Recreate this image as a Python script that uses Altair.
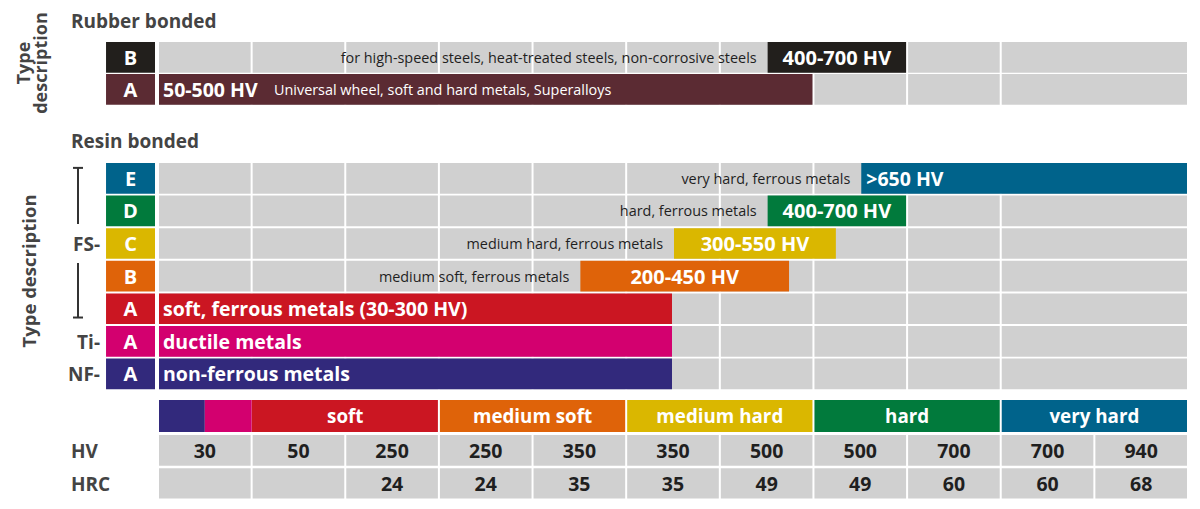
import altair as alt
import pandas as pd

# ---------------- data ----------------
upper_grid_edges = [0, 1, 2, 3, 4, 5, 6, 7, 8, 9, 11]

rubber_letters = ["B", "A"]
rubber_colors = ["#221f1c", "#5b2b33"]
rubber_start = [6.5, 0.0]
rubber_end = [8.0, 7.0]
rubber_labels = ["400-700 HV", "50-500 HV"]
rubber_desc = ["for high-speed steels, heat-treated steels, non-corrosive steels",
               "Universal wheel, soft and hard metals, Superalloys"]

resin_groups = ["FS", "FS", "FS", "FS", "FS", "Ti", "NF"]
resin_letters = ["E", "D", "C", "B", "A", "A", "A"]
resin_colors = ["#00638b", "#017a3c", "#dab700", "#df6309", "#cb1622", "#d3006f", "#32297c"]
resin_start = [7.5, 6.5, 5.5, 4.5, 0.0, 0.0, 0.0]
resin_end = [11.0, 8.0, 7.25, 6.75, 5.5, 5.5, 5.5]
resin_labels = [">650 HV", "400-700 HV", "300-550 HV", "200-450 HV",
                "soft, ferrous metals (30-300 HV)", "ductile metals", "non-ferrous metals"]
resin_desc = ["very hard, ferrous metals", "hard, ferrous metals",
              "medium hard, ferrous metals", "medium soft, ferrous metals", "", "", ""]

class_names = ["soft", "medium soft", "medium hard", "hard", "very hard"]
class_colors = ["#cb1622", "#df6309", "#dab700", "#017a3c", "#00638b"]
class_start = [1, 3, 5, 7, 9]
class_end = [3, 5, 7, 9, 11]
sub_colors = ["#32297c", "#d3006f"]      # NF, Ti part of the scale
sub_start = [0.0, 0.5]
sub_end = [0.5, 1.0]

hv_values = ["30", "50", "250", "250", "350", "350", "500", "500", "700", "700", "940"]
hrc_values = ["", "", "24", "24", "35", "35", "49", "49", "60", "60", "68"]

# ---------------- layout ----------------
PX_COL = (1188 - 158) / 11.0
PX_ROW = 32.6
GX = 1.0 / PX_COL
GREY = "#d0d0d0"
DARK = "#1f1f1f"
HEAD = "#444444"
FONT = "Open Sans"


def px(n):
    return n / PX_COL


H = 0.94
rubber_top = [1.29, 2.27]
resin_top = [5.0 + i for i in range(7)]
band_top, band_h = 12.27, 0.98
hv_top, hv_h = 13.34, 0.95
hrc_top, hrc_h = 14.36, 0.93
LET_X0, LET_X1 = -0.555, -0.032

rects = []
txt = {"letter": [], "bold_left": [], "bold_center": [], "desc_right": [],
       "desc_left_white": [], "band": [], "value": []}


def rect(x0, x1, y0, y1, c):
    rects.append(dict(x0=x0, x1=x1, y0=y0, y1=y1, c=c))


def upper_row(top, letter, color, s, e, label, desc, desc_white=False):
    rect(LET_X0, LET_X1, top, top + H, color)
    for a, b in zip(upper_grid_edges[:-1], upper_grid_edges[1:]):
        rect(a + GX, b - GX, top, top + H, GREY)
    rect(s + GX, e - GX, top, top + H, color)
    yc = top + H / 2
    txt["letter"].append(dict(x=(LET_X0 + LET_X1) / 2, y=yc, t=letter))
    if s == 0:
        txt["bold_left"].append(dict(x=s + px(5), y=yc, t=label))
    elif e == 11:
        txt["bold_left"].append(dict(x=s + px(6), y=yc, t=label))
    else:
        txt["bold_center"].append(dict(x=(s + e) / 2, y=yc, t=label))
    if desc:
        if desc_white:
            txt["desc_left_white"].append(dict(x=px(116), y=yc, t=desc))
        else:
            txt["desc_right"].append(dict(x=s - px(10), y=yc, t=desc))


for i in range(2):
    upper_row(rubber_top[i], rubber_letters[i], rubber_colors[i], rubber_start[i],
              rubber_end[i], rubber_labels[i], rubber_desc[i], desc_white=(rubber_start[i] == 0))
for i in range(7):
    upper_row(resin_top[i], resin_letters[i], resin_colors[i], resin_start[i],
              resin_end[i], resin_labels[i], resin_desc[i])

# bottom scale band
for s, e, c, n in zip(class_start, class_end, class_colors, class_names):
    rect(s + (0 if s == 1 else GX), e - GX, band_top, band_top + band_h, c)
    txt["band"].append(dict(x=(s + e) / 2, y=band_top + band_h / 2, t=n))
for s, e, c in zip(sub_start, sub_end, sub_colors):
    rect(s + (GX if s == 0 else 0), e, band_top, band_top + band_h, c)

for i, (hv, hrc) in enumerate(zip(hv_values, hrc_values)):
    rect(i + GX, i + 1 - GX, hv_top, hv_top + hv_h, GREY)
    rect(i + GX, i + 1 - GX, hrc_top, hrc_top + hrc_h, GREY)
    txt["value"].append(dict(x=i + 0.5, y=hv_top + hv_h / 2, t=hv))
    if hrc:
        txt["value"].append(dict(x=i + 0.5, y=hrc_top + hrc_h / 2, t=hrc))

xs = alt.Scale(domain=[0, 11], range=[158, 1188])
ys = alt.Scale(domain=[0, 16], range=[0, 16 * PX_ROW])

rect_layer = alt.Chart(pd.DataFrame(rects)).mark_rect().encode(
    x=alt.X("x0:Q", scale=xs, axis=None),
    x2="x1:Q",
    y=alt.Y("y0:Q", scale=ys, axis=None),
    y2="y1:Q",
    color=alt.Color("c:N", scale=None),
)


def text_layer(rows, size, weight, align, color, dy=1.5, **kw):
    return alt.Chart(pd.DataFrame(rows)).mark_text(
        font=FONT, fontSize=size, fontWeight=weight, align=align,
        baseline="middle", color=color, dy=dy, **kw
    ).encode(
        x=alt.X("x:Q", scale=xs, axis=None),
        y=alt.Y("y:Q", scale=ys, axis=None),
        text="t:N",
    )


layers = [rect_layer,
          text_layer(txt["letter"], 20, "bold", "center", "white"),
          text_layer(txt["bold_left"], 19.5, "bold", "left", "white"),
          text_layer(txt["bold_center"], 20, "bold", "center", "white"),
          text_layer(txt["desc_right"], 14.4, "normal", "right", DARK),
          text_layer(txt["desc_left_white"], 14.4, "normal", "left", "white"),
          text_layer(txt["band"], 18.8, "bold", "center", "white"),
          text_layer(txt["value"], 19.5, "bold", "center", DARK)]

# headings
heads = [dict(x=px(71 - 158), y=20 / PX_ROW, t="Rubber bonded"),
         dict(x=px(71 - 158), y=140 / PX_ROW, t="Resin bonded"),
         dict(x=px(71 - 158), y=hv_top + hv_h / 2, t="HV"),
         dict(x=px(71 - 158), y=hrc_top + hrc_h / 2, t="HRC")]
layers.append(text_layer(heads, 19, "bold", "left", HEAD))

# group labels (FS-, Ti-, NF-)
grp_rows = []
fs_idx = [i for i, g in enumerate(resin_groups) if g == "FS"]
fs_mid = (resin_top[fs_idx[0]] + resin_top[fs_idx[-1]] + H) / 2
grp_rows.append(dict(x=px(100 - 158), y=fs_mid, t="FS-"))
for i, g in enumerate(resin_groups):
    if g != "FS":
        grp_rows.append(dict(x=px(100 - 158), y=resin_top[i] + H / 2, t=g + "-"))
layers.append(text_layer(grp_rows, 19, "bold", "right", HEAD))

# bracket around FS group
bx = px(78 - 158)
b_top = resin_top[fs_idx[0]] + 0.15
b_bot = resin_top[fs_idx[-1]] + H - 0.2
vlines = pd.DataFrame([dict(x=bx, y0=b_top, y1=fs_mid - 0.6),
                       dict(x=bx, y0=fs_mid + 0.6, y1=b_bot)])
caps = pd.DataFrame([dict(x0=bx - px(5), x1=bx + px(5), y=b_top),
                     dict(x0=bx - px(5), x1=bx + px(5), y=b_bot)])
layers.append(alt.Chart(vlines).mark_rule(color="#333333", strokeWidth=2).encode(
    x=alt.X("x:Q", scale=xs, axis=None), y=alt.Y("y0:Q", scale=ys, axis=None), y2="y1:Q"))
layers.append(alt.Chart(caps).mark_rule(color="#333333", strokeWidth=2).encode(
    x=alt.X("x0:Q", scale=xs, axis=None), x2="x1:Q", y=alt.Y("y:Q", scale=ys, axis=None)))

# rotated axis titles
rot = [dict(x=px(30 - 158), y=271 / PX_ROW, t="Type description")]
layers.append(text_layer(rot, 18.5, "bold", "center", HEAD, dy=0, angle=270))
rot2 = [dict(x=px(25 - 158), y=63 / PX_ROW, t="Type\ndescription")]
layers.append(text_layer(rot2, 18, "bold", "center", HEAD, dy=0, angle=270,
                         lineBreak="\n", lineHeight=17))

chart = alt.layer(*layers).properties(
    width=1200, height=509, padding=0, autosize="none", background="white"
).configure_view(stroke=None)

chart.save("out.html", embed_options={"renderer": "svg", "actions": False})
